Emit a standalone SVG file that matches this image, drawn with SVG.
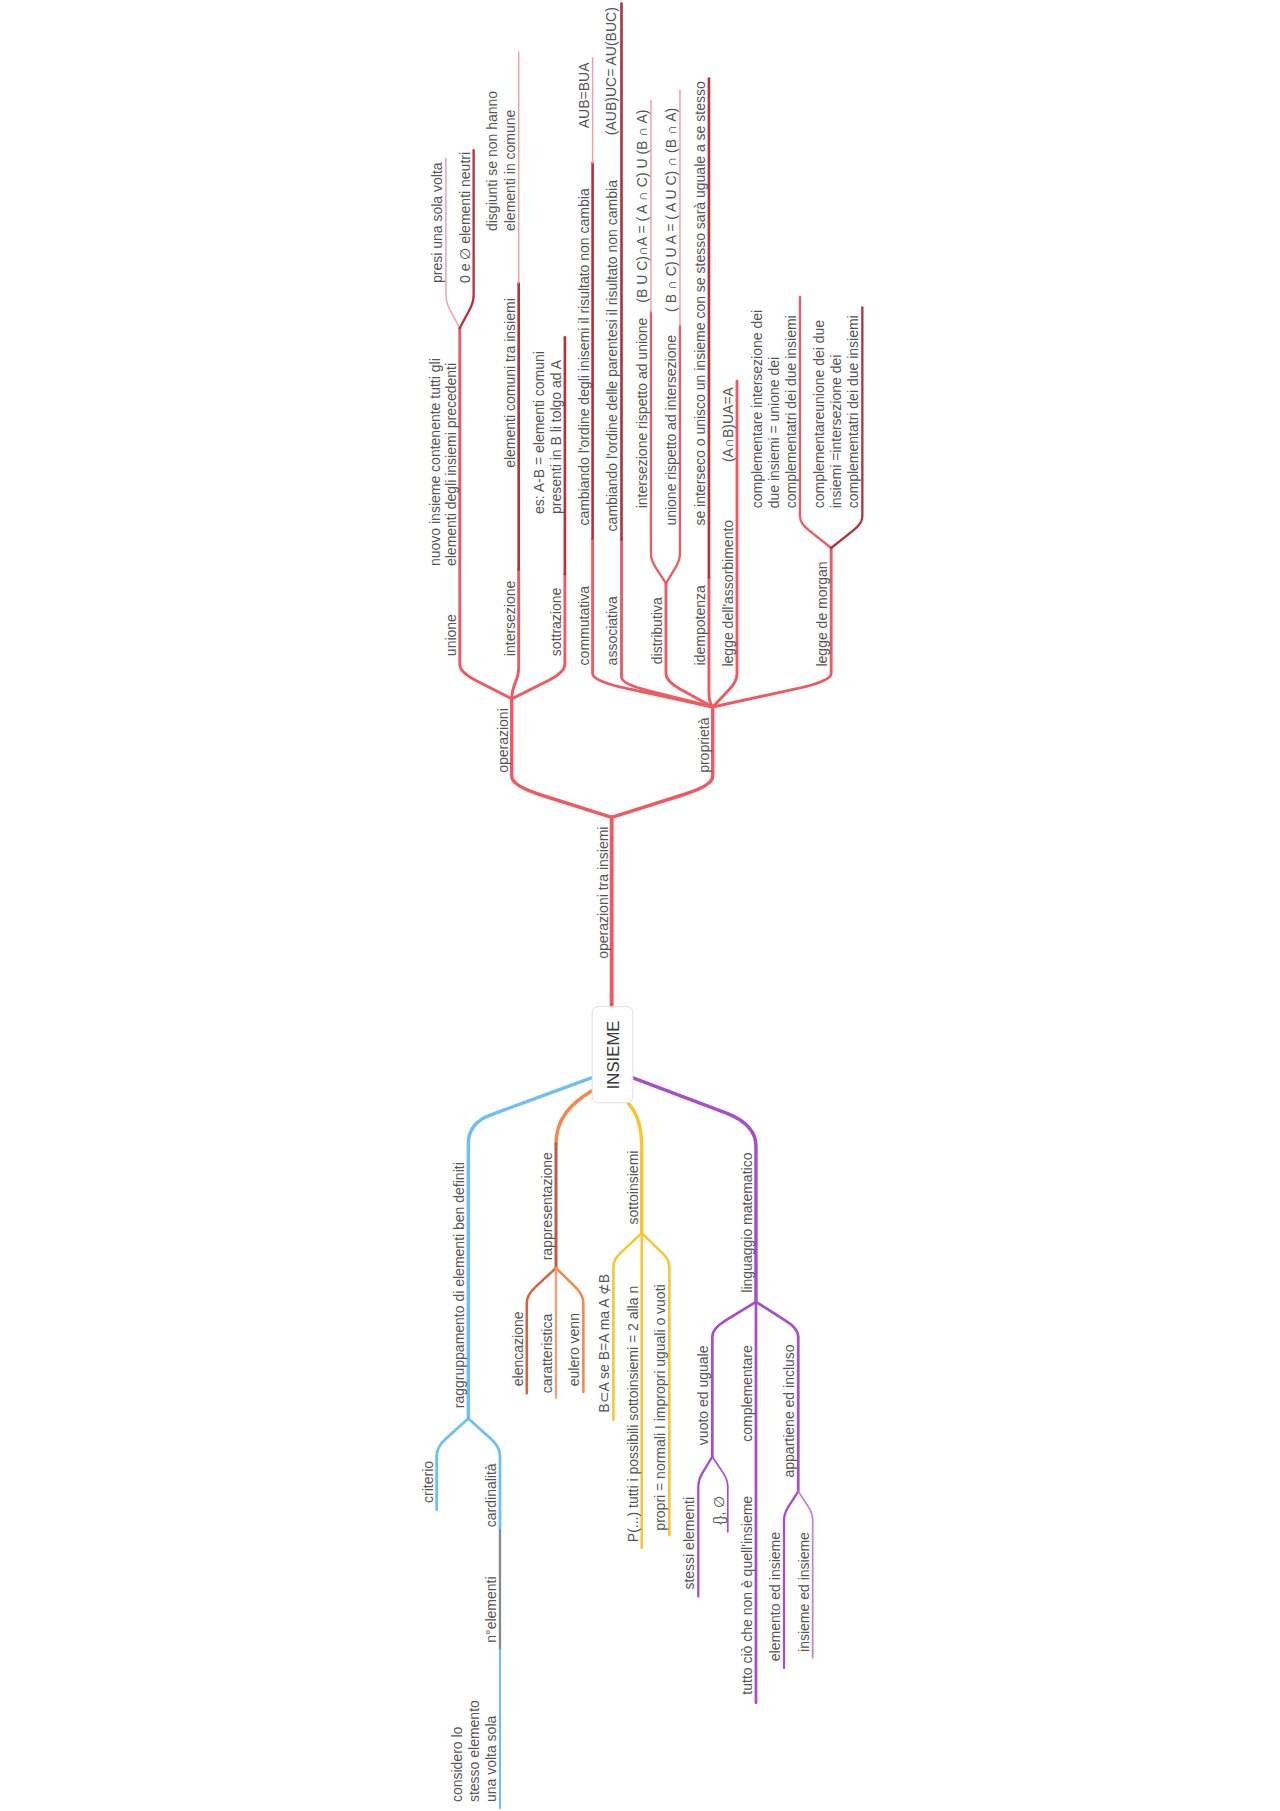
<svg xmlns="http://www.w3.org/2000/svg" width="1280" height="1811" viewBox="0 0 1280 1811">
<defs><style>
.t{font-family:"Liberation Sans",Arial,sans-serif;font-size:12.12px;fill:#555}
.ct{font-family:"Liberation Sans",Arial,sans-serif;font-size:14.5px;fill:#3a3a3a;text-anchor:middle}
.l{fill:none;stroke-linecap:round;stroke-linejoin:round}
.r{stroke:#EF5A62}
.rd{stroke:#B8303C}
.rl{stroke:#F5A0A6}
.b{stroke:#6EC0F0}
.o{stroke:#F3884E}
.y{stroke:#F9C530}
.p{stroke:#A64FC9}
</style></defs>
<rect width="1280" height="1811" fill="#fff"/>
<g transform="scale(1.1552)">
<g id="connectors">
<path class="l r" stroke-width="3.4" d="M529.5,871.5 L529.5,707.5"/>
<path class="l r" stroke-width="3" d="M529.5,707.5 L469,688.4 Q443,680.2 443,672 L443,605"/>
<path class="l r" stroke-width="3" d="M529.5,707.5 L590,688.4 Q617,680.2 617,672 L617,612"/>
<path class="l r" stroke-width="2.5" d="M443,605 L411.5,588.8 Q398,581.9 398,575 L398,284"/>
<path class="l rl" stroke-width="1.3" d="M398,284 L389.6,268.4 Q386,261.7 386,255 L386,137"/>
<path class="l rd" stroke-width="2" d="M398,284 L406.4,268.4 Q410,261.7 410,255 L410,130"/>
<path class="l r" stroke-width="2.5" d="M443,605 C443,592 449,590 449,578 L449,493"/>
<path class="l rd" stroke-width="2.3" d="M449,493 L449,245"/>
<path class="l rl" stroke-width="1.3" d="M449,245 L449,45"/>
<path class="l r" stroke-width="2.5" d="M443,605 L475.2,588.8 Q489,581.9 489,575 L489,497"/>
<path class="l rd" stroke-width="2.3" d="M489,497 L489,292"/>
<path class="l r" stroke-width="2.5" d="M617,612 L544.2,596.4 Q513,589.7 513,583 L513,466"/>
<path class="l rd" stroke-width="2.3" d="M513,466 L513,141"/>
<path class="l rl" stroke-width="1.3" d="M513,141 L513,50"/>
<path class="l r" stroke-width="2.5" d="M617,612 L561.7,598 Q538,592 538,586 L538,467"/>
<path class="l rd" stroke-width="2.3" d="M538,467 L538,3"/>
<path class="l r" stroke-width="2.5" d="M617,612 L588.65,596.4 Q576.5,589.7 576.5,583 L576.5,505"/>
<path class="l r" stroke-width="2" d="M576.5,505 L567.4,491 Q563.5,485 563.5,479 L563.5,270"/>
<path class="l rl" stroke-width="1.3" d="M563.5,270 L563.5,87"/>
<path class="l r" stroke-width="2" d="M576.5,505 L585,491 Q588.6,485 588.6,479 L588.6,282"/>
<path class="l rl" stroke-width="1.3" d="M588.6,282 L588.6,78"/>
<path class="l r" stroke-width="2.5" d="M617,612 Q613.7,608 613.7,600 L613.7,500"/>
<path class="l rd" stroke-width="2.3" d="M613.7,500 L613.7,68"/>
<path class="l r" stroke-width="2.5" d="M617,612 L631.7,596.4 Q638,589.7 638,583 L638,330"/>
<path class="l r" stroke-width="2.5" d="M617,612 L688.75,596.4 Q719.5,589.7 719.5,583 L719.5,474.4"/>
<path class="l r" stroke-width="2" d="M719.5,474.4 L700.6,459.4 Q692.5,453.3 692.5,447 L692.5,257"/>
<path class="l rd" stroke-width="2" d="M719.5,474.4 L738.4,459.4 Q746.5,453.3 746.5,447 L746.5,266"/>

<path class="l b" stroke-width="3" d="M512,933 L425,965 Q405.4,972 405.4,990 L405.4,1228"/>
<path class="l b" stroke-width="2.4" d="M405.4,1228 L386.2,1245.3 Q378,1252.6 378,1260 L378,1307"/>
<path class="l b" stroke-width="2.4" d="M405.4,1228 L424.6,1245.3 Q432.8,1252.6 432.8,1260 L432.8,1324.5"/>
<path class="l" stroke="#8a8a8a" stroke-width="2" d="M432.8,1324.5 L432.8,1428"/>
<path class="l b" stroke-width="1.8" d="M432.8,1428 L432.8,1565"/>

<path class="l o" stroke-width="3" d="M512,944.5 C495,955 481.3,968 481.3,990"/>
<path class="l" stroke="#C25B45" stroke-width="2.6" d="M481.3,990 L481.3,1097.6"/>
<path class="l" stroke="#D8643F" stroke-width="2.2" d="M481.3,1097.6 L463.6,1114 Q456,1121 456,1128 L456,1206"/>
<path class="l" stroke="#F5A070" stroke-width="2" d="M481.3,1097.6 L481.3,1210"/>
<path class="l o" stroke-width="2.2" d="M481.3,1097.6 L497.9,1114 Q505,1121 505,1128 L505,1205"/>

<path class="l y" stroke-width="3" d="M543.9,955 C552,964 555.5,975 555.5,992 L555.5,1067.5"/>
<path class="l y" stroke-width="2.2" d="M555.5,1067.5 L538.35,1083.45 Q531,1089.9 531,1096.6 L531,1229"/>
<path class="l y" stroke-width="2.2" d="M555.5,1067.5 L555.5,1340"/>
<path class="l y" stroke-width="2.2" d="M555.5,1067.5 L572.2,1083.45 Q579.4,1089.9 579.4,1096.6 L579.4,1329"/>

<path class="l p" stroke-width="3" d="M548,933 L630,964 Q654.4,974 654.4,992 L654.4,1127"/>
<path class="l p" stroke-width="2.4" d="M654.4,1127 L627.9,1143.2 Q616.6,1150.1 616.6,1157 L616.6,1261"/>
<path class="l p" stroke-width="2" d="M616.6,1261 L608.1,1275 Q604.5,1281 604.5,1287 L604.5,1382"/>
<path class="l p" stroke-width="1.5" d="M616.6,1261 L626,1275 Q630,1281 630,1287 L630,1326"/>
<path class="l p" stroke-width="2.4" d="M654.4,1127 L654.4,1474"/>
<path class="l p" stroke-width="2.4" d="M654.4,1127 L680,1143.2 Q691,1150.1 691,1157 L691,1291"/>
<path class="l p" stroke-width="2" d="M691,1291 L682.4,1304.4 Q678.7,1310.2 678.7,1316 L678.7,1444"/>
<path class="l" stroke="#BF7FDB" stroke-width="1.5" d="M691,1291 L699.75,1304.4 Q703.5,1310.2 703.5,1316 L703.5,1435"/>
</g>

<g id="n-root"><rect x="512.6" y="871.4" width="35.2" height="83.2" rx="5" fill="#fff" stroke="#dcdcdc" stroke-width="0.8"/><text class="ct" transform="translate(536.2,913.2) rotate(-90)">INSIEME</text></g>

<g id="n-operazioni-tra-insiemi"><text class="t" transform="translate(526,830) rotate(-90)">operazioni tra insiemi</text></g>
<g id="n-operazioni"><text class="t" transform="translate(439.5,669) rotate(-90)">operazioni</text></g>
<g id="n-proprieta"><text class="t" transform="translate(613.5,669) rotate(-90)">proprietà</text></g>
<g id="n-unione"><text class="t" transform="translate(394.5,568) rotate(-90)">unione</text></g>
<g id="n-nuovo"><text class="t" transform="translate(380.5,490) rotate(-90)">nuovo insieme contenente tutti gli</text><text class="t" transform="translate(395,490) rotate(-90)">elementi degli insiemi precedenti</text></g>
<g id="n-presi"><text class="t" transform="translate(382.5,245) rotate(-90)">presi una sola volta</text></g>
<g id="n-neutri"><text class="t" transform="translate(406.5,245) rotate(-90)">0 e ∅ elementi neutri</text></g>
<g id="n-intersezione"><text class="t" transform="translate(445.5,568) rotate(-90)">intersezione</text></g>
<g id="n-comuni"><text class="t" transform="translate(445.5,405) rotate(-90)">elementi comuni tra insiemi</text></g>
<g id="n-disgiunti"><text class="t" transform="translate(430.5,200) rotate(-90)">disgiunti se non hanno</text><text class="t" transform="translate(445.5,200) rotate(-90)">elementi in comune</text></g>
<g id="n-sottrazione"><text class="t" transform="translate(485.5,568) rotate(-90)">sottrazione</text></g>
<g id="n-es"><text class="t" transform="translate(471,445) rotate(-90)">es: A-B = elementi comuni</text><text class="t" transform="translate(485.5,445) rotate(-90)">presenti in B li tolgo ad A</text></g>
<g id="n-commutativa"><text class="t" transform="translate(509.5,576) rotate(-90)">commutativa</text></g>
<g id="n-comm-1"><text class="t" transform="translate(509.5,455) rotate(-90)">cambiando l'ordine degli inisemi il risultato non cambia</text></g>
<g id="n-comm-2"><text class="t" transform="translate(509.5,111) rotate(-90)">AUB=BUA</text></g>
<g id="n-associativa"><text class="t" transform="translate(534.5,576) rotate(-90)">associativa</text></g>
<g id="n-ass-1"><text class="t" transform="translate(534.5,460) rotate(-90)">cambiando l'ordine delle parentesi il risultato non cambia</text></g>
<g id="n-ass-2"><text class="t" transform="translate(533,117) rotate(-90)">(AUB)UC= AU(BUC)</text></g>
<g id="n-distributiva"><text class="t" transform="translate(573,575) rotate(-90)">distributiva</text></g>
<g id="n-dist-1"><text class="t" transform="translate(560,440) rotate(-90)">intersezione rispetto ad unione</text></g>
<g id="n-dist-1f"><text class="t" transform="translate(560,262) rotate(-90)">(B U C)∩A = ( A ∩ C) U (B ∩ A)</text></g>
<g id="n-dist-2"><text class="t" transform="translate(585,455) rotate(-90)">unione rispetto ad intersezione</text></g>
<g id="n-dist-2f"><text class="t" transform="translate(585,270) rotate(-90)">( B ∩ C) U A = ( A U C) ∩ (B ∩ A)</text></g>
<g id="n-idempotenza"><text class="t" transform="translate(610,576) rotate(-90)">idempotenza</text></g>
<g id="n-idem-1"><text class="t" transform="translate(610,455) rotate(-90)">se interseco o unisco un insieme con se stesso sarà uguale a se stesso</text></g>
<g id="n-assorbimento"><text class="t" transform="translate(634.5,577) rotate(-90)">legge dell'assorbimento</text></g>
<g id="n-assorb-1"><text class="t" transform="translate(634.5,400) rotate(-90)">(A∩B)UA=A</text></g>
<g id="n-morgan"><text class="t" transform="translate(716,577) rotate(-90)">legge de morgan</text></g>
<g id="n-morgan-1"><text class="t" transform="translate(660,440) rotate(-90)">complementare intersezione dei</text><text class="t" transform="translate(674.7,440) rotate(-90)">due insiemi = unione dei</text><text class="t" transform="translate(689.4,440) rotate(-90)">complementatri dei due insiemi</text></g>
<g id="n-morgan-2"><text class="t" transform="translate(713.5,440) rotate(-90)">complementareunione dei due</text><text class="t" transform="translate(728.2,440) rotate(-90)">insiemi =intersezione dei</text><text class="t" transform="translate(743,440) rotate(-90)">complementatri dei due insiemi</text></g>

<g id="n-raggruppamento"><text class="t" transform="translate(401.5,1219) rotate(-90)">raggruppamento di elementi ben definiti</text></g>
<g id="n-criterio"><text class="t" transform="translate(375,1301) rotate(-90)">criterio</text></g>
<g id="n-cardinalita"><text class="t" transform="translate(429,1322) rotate(-90)">cardinalità</text></g>
<g id="n-nelementi"><text class="t" transform="translate(429,1422) rotate(-90)">n°elementi</text></g>
<g id="n-considero"><text class="t" transform="translate(400,1560) rotate(-90)">considero lo</text><text class="t" transform="translate(414.5,1560) rotate(-90)">stesso elemento</text><text class="t" transform="translate(429,1560) rotate(-90)">una volta sola</text></g>

<g id="n-rappresentazione"><text class="t" transform="translate(478,1091) rotate(-90)">rappresentazione</text></g>
<g id="n-elencazione"><text class="t" transform="translate(452.6,1200) rotate(-90)">elencazione</text></g>
<g id="n-caratteristica"><text class="t" transform="translate(477.5,1206) rotate(-90)">caratteristica</text></g>
<g id="n-eulero"><text class="t" transform="translate(501.5,1200) rotate(-90)">eulero venn</text></g>

<g id="n-sottoinsiemi"><text class="t" transform="translate(552,1060) rotate(-90)">sottoinsiemi</text></g>
<g id="n-subset"><text class="t" transform="translate(527,1223) rotate(-90)">B⊂A se B=A ma A ⊄B</text></g>
<g id="n-parti"><text class="t" transform="translate(552,1335) rotate(-90)">P(...) tutti i possibili sottoinsiemi = 2 alla n</text></g>
<g id="n-propri"><text class="t" transform="translate(576,1325) rotate(-90)">propri = normali I impropri uguali o vuoti</text></g>

<g id="n-linguaggio"><text class="t" transform="translate(651,1119) rotate(-90)">linguaggio matematico</text></g>
<g id="n-vuoto"><text class="t" transform="translate(613,1251) rotate(-90)">vuoto ed uguale</text></g>
<g id="n-stessi"><text class="t" transform="translate(600.5,1376) rotate(-90)">stessi elementi</text></g>
<g id="n-vuotoset"><text class="t" transform="translate(626.5,1320) rotate(-90)">{}, ∅</text></g>
<g id="n-complementare"><text class="t" transform="translate(651,1248) rotate(-90)">complementare</text></g>
<g id="n-tutto"><text class="t" transform="translate(651,1467) rotate(-90)">tutto ciò che non è quell'insieme</text></g>
<g id="n-appartiene"><text class="t" transform="translate(687,1279) rotate(-90)">appartiene ed incluso</text></g>
<g id="n-elemento"><text class="t" transform="translate(675,1438) rotate(-90)">elemento ed insieme</text></g>
<g id="n-insieme-insieme"><text class="t" transform="translate(700,1430) rotate(-90)">insieme ed insieme</text></g>
</g>
</svg>
